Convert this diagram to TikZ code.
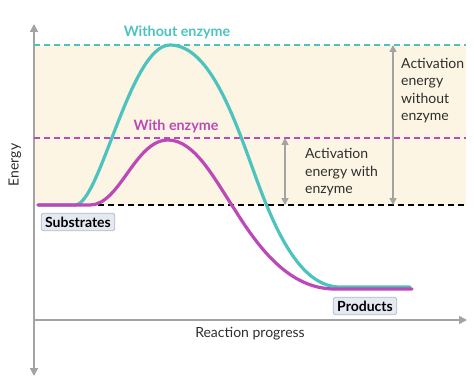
\documentclass[tikz,border=0pt]{standalone}
\usepackage{fontspec}
\setmainfont{Lato}
\usetikzlibrary{arrows.meta}
\definecolor{cyanc}{HTML}{4CC3BF}
\definecolor{magc}{HTML}{BD48B7}
\definecolor{beigec}{HTML}{FDF5E3}
\definecolor{axisgray}{HTML}{A3A3A3}
\definecolor{boxfill}{HTML}{E5E9F1}
\definecolor{boxdraw}{HTML}{B5BCC8}
\definecolor{txt}{HTML}{2E2E2E}
\begin{document}
\begin{tikzpicture}[x=1pt,y=-1pt,
  axisline/.style={draw=axisgray,line width=1.6pt,-{Triangle[length=8pt,width=8pt]}},
  dimarrow/.style={draw=axisgray,line width=1.6pt,{Triangle[length=7pt,width=7pt]}-{Triangle[length=7pt,width=7pt]}},
  guide/.style={line width=1.1pt,dash pattern=on 6pt off 4pt},
  curve/.style={line width=3.2pt,line cap=round,line join=round},
  labelbox/.style={draw=boxdraw,fill=boxfill,rounded corners=2.5pt,line width=0.8pt,font=\fontsize{14}{16}\selectfont\bfseries,text=black,inner xsep=4pt,inner ysep=3.5pt},
  plain/.style={font=\fontsize{14}{17.5}\selectfont,text=txt,align=left,inner sep=0pt}]
\useasboundingbox (0,0) rectangle (474,385);
\fill[beigec] (34,45) rectangle (466,205);
% axes
\coordinate (ytop) at (34,24);
\coordinate (ybot) at (34,376);
\coordinate (xl) at (34,320);
\coordinate (xr) at (467,320);
\draw[axisline] (xl) -- (xr);
\draw[draw=axisgray,line width=1.6pt,{Triangle[length=8pt,width=8pt]}-{Triangle[length=8pt,width=8pt]}] (ybot) -- (ytop);
% guide lines
\coordinate (cl) at (34,45); \coordinate (cr) at (466,45);
\coordinate (ml) at (34,138); \coordinate (mr) at (466,138);
\coordinate (bl) at (38,205); \coordinate (br) at (466,205);
\draw[guide,cyanc] (cl) -- (cr);
\draw[guide,magc] (ml) -- (mr);
\draw[guide,black] (bl) -- (br);
% curves
\draw[curve,cyanc] (38,205) -- (75,205) .. controls (100,205) and (130,45) .. (170,45)
  .. controls (210,45) and (235,120) .. (255,175)
  .. controls (275,230) and (300,287) .. (340,287) -- (410,287);
\draw[curve,magc] (38,205) -- (90,205) .. controls (120,205) and (135,140) .. (168,140)
  .. controls (195,140) and (215,180) .. (235,210)
  .. controls (260,250) and (290,289) .. (335,289) -- (412,289);
% dimension arrows
\coordinate (a1t) at (393,45); \coordinate (a1b) at (393,205);
\coordinate (a2t) at (285,138); \coordinate (a2b) at (285,205);
\draw[dimarrow] (a1b) -- (a1t);
\draw[dimarrow] (a2b) -- (a2t);
% texts
\node[font=\fontsize{14.3}{16}\selectfont\bfseries,text=cyanc] (wo) at (177,32) {Without enzyme};
\node[font=\fontsize{14.3}{16}\selectfont\bfseries,text=magc] (wi) at (176,126) {With enzyme};
\node[plain,anchor=north west] (ae1) at (401,58) {Activation\\energy\\without\\enzyme};
\node[plain,anchor=north west] (ae2) at (305,148.5) {Activation\\energy with\\enzyme};
\node[labelbox] (sub) at (78,222) {Substrates};
\node[labelbox] (prod) at (365,306) {Products};
\node[font=\fontsize{14}{16}\selectfont,text=txt,rotate=90] (en) at (15,165) {Energy};
\node[font=\fontsize{14}{16}\selectfont,text=txt] (rp) at (250,334) {Reaction progress};
\end{tikzpicture}
\end{document}
